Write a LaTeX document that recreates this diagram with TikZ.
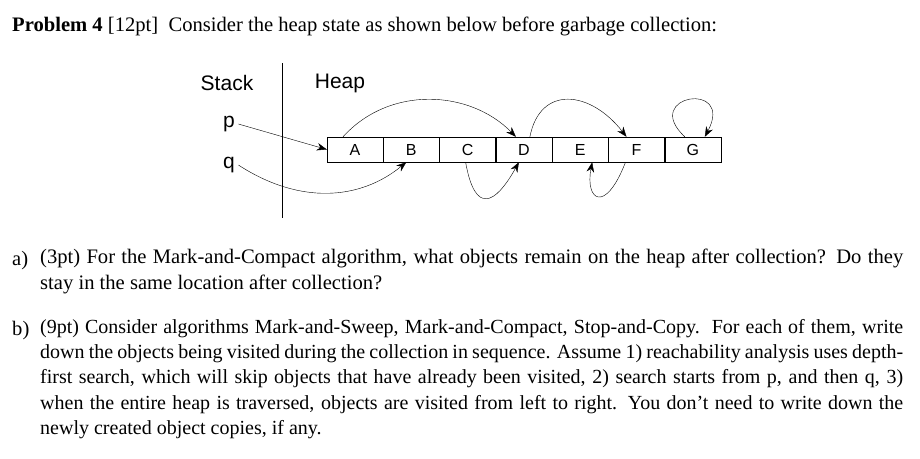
\documentclass[tikz,border=0pt]{standalone}
\usepackage{fontspec}
\setmainfont{Liberation Serif}
\newfontfamily\heapfont{Liberation Sans}
\usetikzlibrary{positioning,arrows.meta}
\begin{document}
\begin{tikzpicture}[x=1pt,y=-1pt,
    cell/.style={draw, rectangle, minimum width=55.9pt, minimum height=25pt, inner sep=0pt, font=\heapfont\fontsize{16}{16}\selectfont},
    lbl/.style={font=\heapfont\fontsize{21}{21}\selectfont},
    ref/.style={-{Stealth[length=10pt,width=7.5pt]}},
    para/.style={anchor=north west, inner sep=0pt, text width=863pt, align=justify, font=\fontsize{20.6}{25.3}\selectfont}]
    \useasboundingbox (0,0) rectangle (920,458);

    % Heading
    \node[anchor=base west, inner sep=0pt, font=\fontsize{20.6}{25}\selectfont] (title) at (12,31)
        {\textbf{Problem 4} [12pt]\ \ Consider the heap state as shown below before garbage collection:};

    % Stack and heap labels
    \node[lbl] (stack) at (227,83) {Stack};
    \node[lbl] (heap) at (340,83) {Heap};
    \coordinate (top) at (282,63);
    \coordinate (bot) at (282,218);
    \draw (top) -- (bot);
    \node[lbl] (p) at (229,124) {p};
    \node[lbl] (q) at (229,165) {q};

    % Heap cells
    \node[cell] (A) at (355,149.5) {A};
    \node[cell, right=0pt of A] (B) {B};
    \node[cell, right=0pt of B] (C) {C};
    \node[cell, right=0pt of C] (D) {D};
    \node[cell, right=0pt of D] (E) {E};
    \node[cell, right=0pt of E] (F) {F};
    \node[cell, right=0pt of F] (G) {G};

    % References
    \draw[ref] (p.east) -- (A.west);
    \draw[ref] (q.east) .. controls (300,205) and (360,200) .. ([xshift=-5pt]B.south);
    \draw[ref] ([xshift=-12pt]A.north) .. controls (390,85) and (470,90) .. ([xshift=-8pt]D.north);
    \draw[ref] ([xshift=6pt]D.north) .. controls (540,85) and (590,90) .. ([xshift=-10pt]F.north);
    \draw[ref] ([xshift=-8pt]G.north) .. controls (640,95) and (735,80) .. ([xshift=12pt]G.north);
    \draw[ref] ([xshift=-2pt]C.south) .. controls (475,215) and (495,205) .. ([xshift=-5pt]D.south);
    \draw[ref] ([xshift=-11pt]F.north |- F.south) .. controls (605,215) and (585,200) .. ([xshift=12pt]E.south);

    % Questions
    \node[anchor=base west, inner sep=0pt, font=\fontsize{20.6}{25}\selectfont] (qa) at (12,265) {a)};
    \node[para] (ta) at (40,249)
        {(3pt) For the Mark-and-Compact algorithm, what objects remain on the heap after collection? Do they stay in the same location after collection?};
    \node[anchor=base west, inner sep=0pt, font=\fontsize{20.6}{25}\selectfont] (qb) at (12,335) {b)};
    \node[para, font=\fontsize{20}{25.3}\selectfont] (tb) at (40,319)
        {(9pt) Consider algorithms Mark-and-Sweep, Mark-and-Compact, Stop-and-Copy.\ \ For each of them, write down the objects being visited during the collection in sequence. Assume 1) reachability analysis uses depth-first search, which will skip objects that have already been visited, 2) search starts from p, and then q, 3) when the entire heap is traversed, objects are visited from left to right. You don't need to write down the newly created object copies, if any.};
\end{tikzpicture}
\end{document}
